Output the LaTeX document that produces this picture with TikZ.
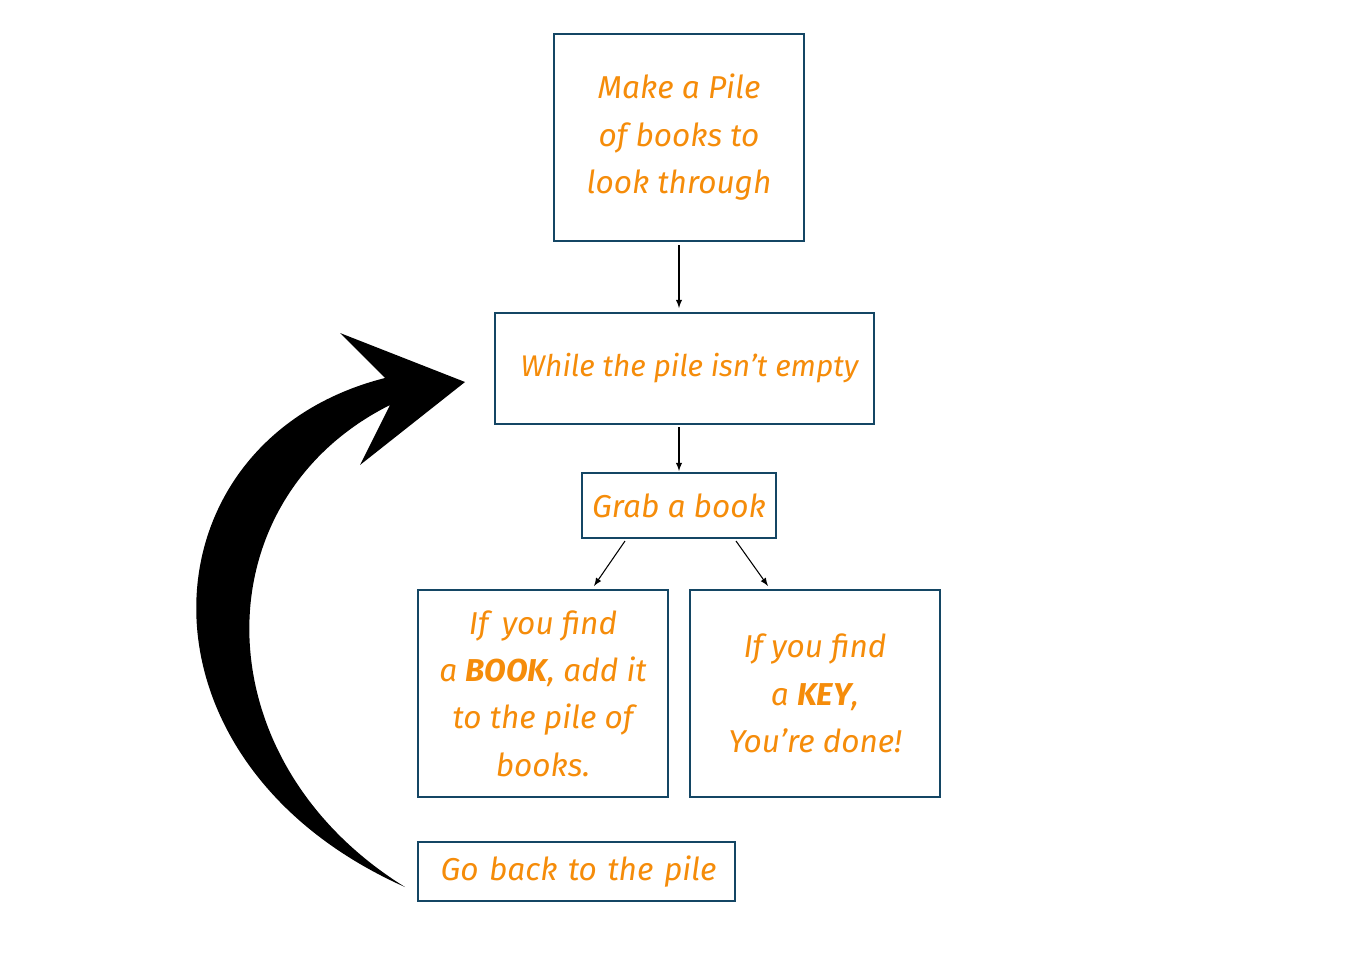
\documentclass[tikz,border=0pt]{standalone}
\usepackage{fontspec}
\setmainfont{Fira Sans}
\definecolor{txtorange}{RGB}{245,140,10}
\definecolor{boxblue}{RGB}{20,70,100}
\begin{document}
\begin{tikzpicture}[x=0.02cm, y=-0.02cm,
        step box/.style={draw=boxblue, thick, rectangle, align=center, text=txtorange,
            font=\itshape\fontsize{18}{27}\selectfont, inner sep=0pt},
        arrow/.style={-latex, semithick}
    ]
        \useasboundingbox (0,0) rectangle (1358,970);

        % Steps (absolute positioning)
        \node[step box, minimum width=5cm, minimum height=4.14cm] (pile) at (679,137.5) {Make a Pile\\of books to\\look through};
        \node[step box, minimum width=7.58cm, minimum height=2.22cm, font=\itshape\fontsize{17}{27}\selectfont] (while) at (684.5,368.5) {\hspace*{0.2cm}While the pile isn't empty};
        \node[step box, minimum width=3.88cm, minimum height=1.3cm] (grab) at (679,505.5) {Grab a book};
        \node[step box, minimum width=5cm, minimum height=4.14cm] (book) at (543,693.5) {If\, you find\\a \textbf{BOOK}, add it\\to the pile of\\books.};
        \node[step box, minimum width=5cm, minimum height=4.14cm] (key) at (815,693.5) {If you find\\a \textbf{KEY},\\You're done!};
        \node[step box, text width=6.34cm, minimum height=1.18cm, align=left] (back) at (576.5,871.5) {\hspace*{0.45cm}Go back to the pile};

        % Arrow ends
        \coordinate (pileout) at (679,245);
        \coordinate (whilein) at (679,308);
        \coordinate (whileout) at (679,427);
        \coordinate (grabin) at (679,471);
        \coordinate (grabl) at (625,541);
        \coordinate (grabr) at (736,541);
        \coordinate (bookin) at (594,586);
        \coordinate (keyin) at (768,586);

        % Arrows
        \draw[arrow] (pileout) -- (whilein);
        \draw[arrow] (whileout) -- (grabin);
        \draw[arrow] (grabl) -- (bookin);
        \draw[arrow] (grabr) -- (keyin);

        % Big return arrow
        \fill[black] (405,887) .. controls (120,760) and (140,440) .. (385,378)
            -- (340,333) -- (465,382) -- (360,465) -- (390,405)
            .. controls (200,500) and (200,760) .. (405,887) -- cycle;

    \end{tikzpicture}
\end{document}
